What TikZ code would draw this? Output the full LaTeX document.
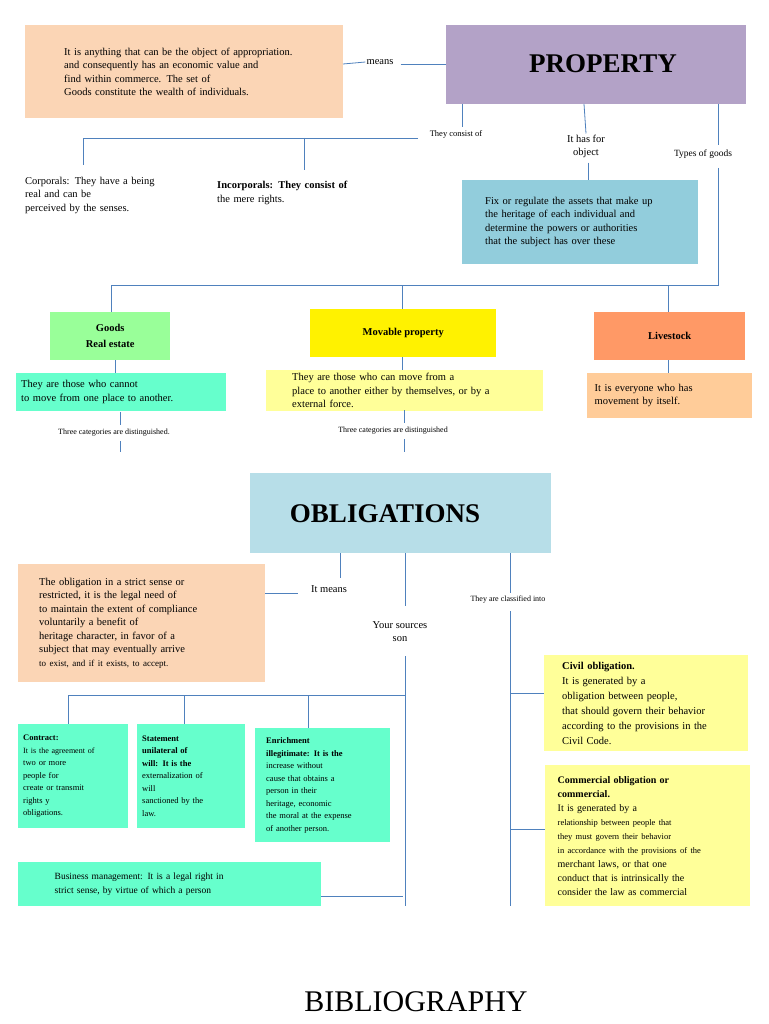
\documentclass[tikz,border=0pt]{standalone}
\usepackage{fontspec}
\setmainfont{Liberation Serif}
\begin{document}
\begin{tikzpicture}[x=1pt,y=-1pt,
  bx/.style={anchor=north west,inner sep=5pt,align=left,font=\fontsize{10.5}{13.5}\selectfont},
  lbl/.style={inner sep=1pt,font=\fontsize{10.5}{13}\selectfont,align=center},
  sm/.style={inner sep=1pt,font=\fontsize{8.5}{10}\selectfont},
  ln/.style={draw=blue!55!cyan!70!black,line width=0.8pt}]
\definecolor{peach}{HTML}{FBD5B5}
\definecolor{lav}{HTML}{B3A2C7}
\definecolor{sky}{HTML}{92CDDC}
\definecolor{lgreen}{HTML}{99FF99}
\definecolor{lorange}{HTML}{FF9966}
\definecolor{aqua}{HTML}{66FFCC}
\definecolor{lyel}{HTML}{FFFF99}
\definecolor{pale}{HTML}{FFCC99}
\definecolor{obl}{HTML}{B7DEE8}
\definecolor{lnc}{HTML}{4F81BD}
\tikzset{ln/.style={draw=lnc,line width=0.8pt}}
\newcommand{\jl}[1]{\makebox[\linewidth][s]{#1}}
\useasboundingbox (0,0) rectangle (768,1024);
\fill[white] (0,0) rectangle (768,1024);
% PROPERTY part
\node[bx,fill=peach,minimum width=318,minimum height=93,text width=240] (def) at (25,25)
 {\jl{It is anything that can be the object of appropriation.}\\\jl{and consequently has an economic value and}\\\jl{find within commerce. The set of}\\Goods constitute the wealth of individuals.};
\node[anchor=north west,fill=lav,minimum width=300,minimum height=79,inner sep=0] (prop) at (446,25) {};
\node[font=\fontsize{27}{30}\selectfont\bfseries] (propt) at (603,64) {PROPERTY};
\node[lbl] (means) at (380,62) {means};
\draw[ln] (343,64) -- (means.west);
\draw[ln] (means.east) ++(6,2) -- (prop.west |- 0,64);
\node[sm] (consist) at (456,134) {They consist of};
\draw[ln] (462,104) -- (462,127);
\coordinate (jc) at (418,138);
\draw[ln] (jc) -- (83,138) -- (83,165);
\draw[ln] (304,138) -- (304,170);
\node[lbl] (hasfor) at (586,146) {It has for\\object};
\draw[ln] (584,104) -- (hasfor.north);
\node[lbl,font=\fontsize{9.5}{11}\selectfont] (types) at (703,154) {Types of goods};
\draw[ln] (718,104) -- (718,145);
\node[bx,inner sep=0,text width=140] (corp) at (25,177)
 {\jl{Corporals: They have a being}\\\jl{real and can be}\\perceived by the senses.};
\node[bx,inner sep=0,text width=160] (incorp) at (217,181)
 {\textbf{Incorporals: They consist of}\\the mere rights.};
\node[bx,fill=sky,minimum width=236,minimum height=84,text width=190] (fix) at (462,180)
 {\jl{Fix or regulate the assets that make up}\\\jl{the heritage of each individual and}\\\jl{determine the powers or authorities}\\that the subject has over these};
\draw[ln] (hasfor.south) ++(2,4) -- (fix.north -| 588,0);
\draw[ln] (718,168) -- (718,285) -- (111,285) -- (111,312);
\draw[ln] (402,285) -- (402,309);
\draw[ln] (668,285) -- (668,312);
\node[anchor=north west,fill=lgreen,minimum width=120,minimum height=48,align=center,font=\fontsize{10.5}{16}\selectfont\bfseries] (goods) at (50,312) {Goods\\Real estate};
\node[anchor=north west,fill=yellow,minimum width=186,minimum height=48,font=\fontsize{10.5}{13}\selectfont\bfseries] (mov) at (310,309) {Movable property};
\node[anchor=north west,fill=lorange,minimum width=151,minimum height=48,font=\fontsize{10.5}{13}\selectfont\bfseries] (live) at (594,312) {Livestock};
\node[bx,fill=aqua,minimum width=210,minimum height=38,text width=200,inner sep=3pt] (cannot) at (16,373)
 {\jl{They are those who cannot}\\to move from one place to another.};
\node[bx,fill=lyel,minimum width=277,minimum height=39,text width=225,inner sep=3pt] (those) at (266,370)
 {\jl{They are those who can move from a}\\\jl{place to another either by themselves, or by a}\\external force.};
\node[bx,fill=pale,minimum width=165,minimum height=45,text width=150,inner sep=4pt] (every) at (587,373)
 {\jl{It is everyone who has}\\movement by itself.};
\draw[ln] (115,360) -- (115,373);
\draw[ln] (402,357) -- (402,370);
\draw[ln] (668,360) -- (668,373);
\node[sm,font=\fontsize{8}{10}\selectfont] (three1) at (114,433) {Three categories are distinguished.};
\node[sm,font=\fontsize{8}{10}\selectfont] (three2) at (393,431) {Three categories are distinguished};
\draw[ln] (120,412) -- (120,425); \draw[ln] (120,441) -- (120,452);
\draw[ln] (404,410) -- (404,423); \draw[ln] (404,439) -- (404,452);
% OBLIGATIONS
\node[anchor=north west,fill=obl,minimum width=301,minimum height=80,inner sep=0] (obl) at (250,473) {};
\node[font=\fontsize{27}{30}\selectfont\bfseries] (oblt) at (385,514) {OBLIGATIONS};
\node[bx,fill=peach,minimum width=247,minimum height=118,text width=205] (oblig) at (18,564)
 {\jl{The obligation in a strict sense or}\\restricted, it is the legal need of\\\jl{to maintain the extent of compliance}\\\jl{voluntarily a benefit of}\\\jl{heritage character, in favor of a}\\subject that may eventually arrive\\{\fontsize{9}{11}\selectfont to exist, and if it exists, to accept.}};
\node[lbl] (itmeans) at (329,589) {It means};
\draw[ln] (340,553) -- (340,578);
\draw[ln] (oblig.east |- 0,593) -- (298,593);
\node[lbl] (sources) at (400,632) {Your sources\\son};
\draw[ln] (405,553) -- (405,606);
\node[sm,font=\fontsize{8}{10}\selectfont] (class) at (508,600) {They are classified into};
\draw[ln] (510,553) -- (510,593);
\draw[ln] (510,611) -- (510,906);
\draw[ln] (405,656) -- (405,906);
\draw[ln] (405,695) -- (68,695) -- (68,724);
\draw[ln] (184,695) -- (184,724);
\draw[ln] (308,695) -- (308,728);
\node[bx,fill=aqua,minimum width=110,minimum height=104,text width=100,inner sep=5pt,font=\fontsize{8.5}{12.5}\selectfont] (contract) at (18,724)
 {\textbf{Contract:}\\{\fontsize{8}{11}\selectfont\jl{It is the agreement of}}\\\jl{two or more}\\\jl{people for}\\create or transmit\\\jl{rights y}\\obligations.};
\node[bx,fill=aqua,minimum width=108,minimum height=104,text width=98,inner sep=5pt,font=\fontsize{8.5}{12.5}\selectfont] (stmt) at (137,724)
 {\textbf{Statement}\\\jl{\textbf{unilateral of}}\\\textbf{will: It is the}\\\jl{externalization of}\\will\\sanctioned by the\\law.};
\node[bx,fill=aqua,minimum width=135,minimum height=114,text width=113,inner sep=5pt,font=\fontsize{8.5}{12.5}\selectfont] (enrich) at (255,728)
 {\textbf{Enrichment}\\\textbf{illegitimate: It is the}\\\jl{increase without}\\cause that obtains a\\\jl{person in their}\\heritage, economic\\the moral at the expense\\of another person.};
\node[bx,fill=aqua,minimum width=303,minimum height=44,text width=230,inner sep=5pt,font=\fontsize{9.5}{14}\selectfont] (busi) at (18,862)
 {\jl{Business management: It is a legal right in}\\strict sense, by virtue of which a person};
\draw[ln] (busi.east |- 0,896) -- (403,896);
\node[bx,fill=lyel,minimum width=204,minimum height=96,text width=168,inner sep=5pt,font=\fontsize{10.5}{15}\selectfont] (civil) at (544,655)
 {\textbf{Civil obligation.}\\It is generated by a\\\jl{obligation between people,}\\that should govern their behavior\\according to the provisions in the\\Civil Code.};
\draw[ln] (510,693) -- (civil.west |- 0,693);
\node[bx,fill=lyel,minimum width=205,minimum height=141,text width=180,inner sep=5pt,font=\fontsize{10}{14}\selectfont] (comm) at (545,765)
 {\jl{\textbf{Commercial obligation or}}\\\textbf{commercial.}\\It is generated by a\\{\fontsize{8.5}{14}\selectfont\jl{relationship between people that}}\\{\fontsize{8.5}{14}\selectfont\jl{they must govern their behavior}}\\{\fontsize{8.5}{14}\selectfont\jl{in accordance with the provisions of the}}\\\jl{merchant laws, or that one}\\conduct that is intrinsically the\\\jl{consider the law as commercial}};
\draw[ln] (510,829) -- (comm.west |- 0,829);
\node[font=\fontsize{30}{34}\selectfont] (bib) at (416,1002) {BIBLIOGRAPHY};
\end{tikzpicture}
\end{document}
